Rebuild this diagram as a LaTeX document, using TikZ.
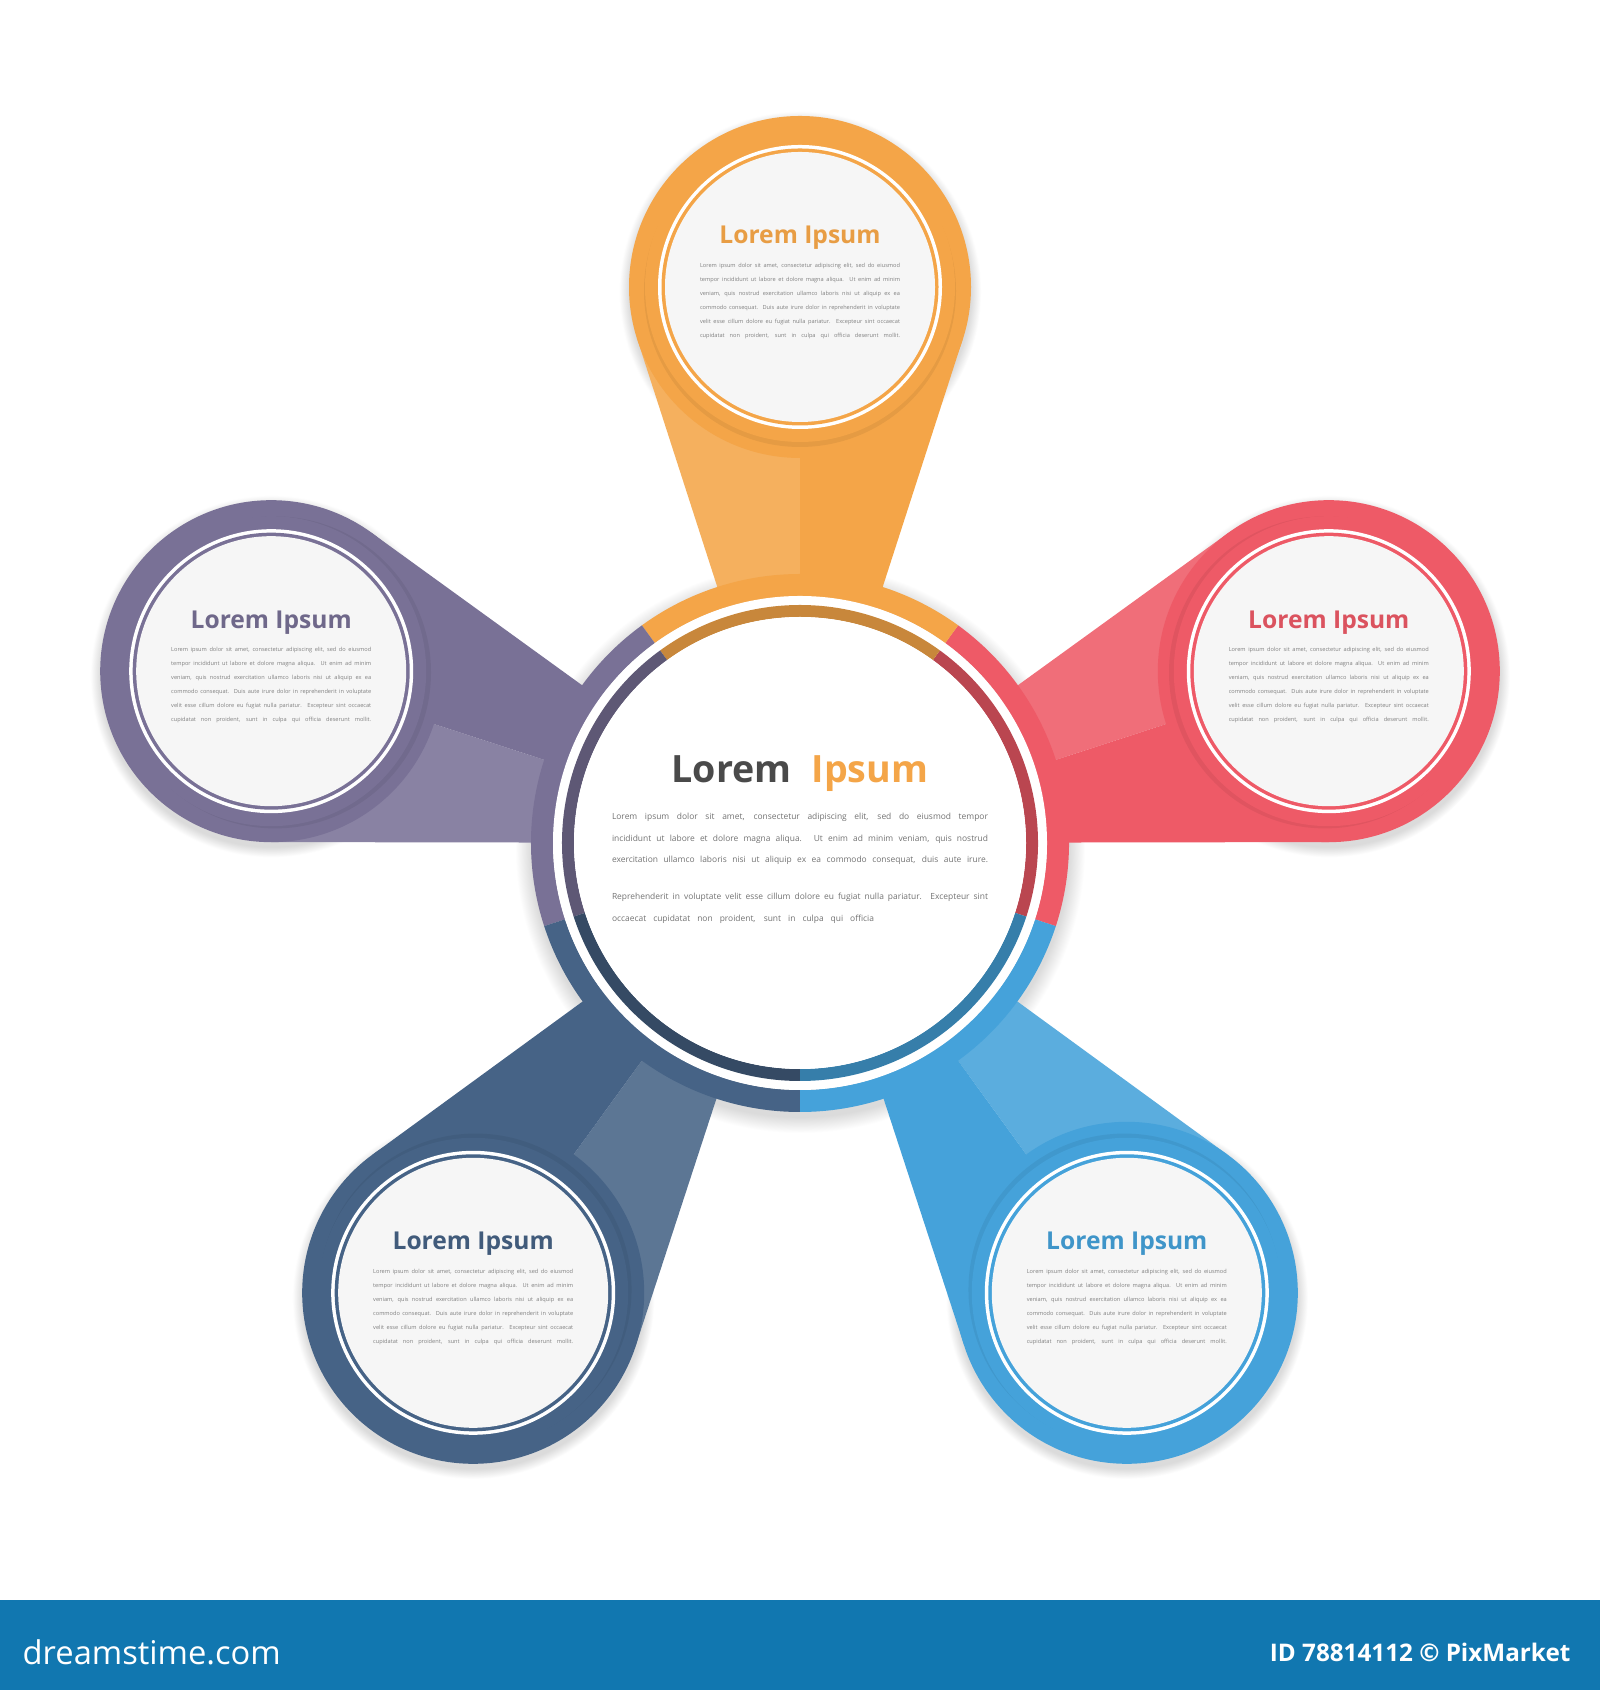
\documentclass[tikz,border=0pt]{standalone}
\usepackage{fontspec}
\setmainfont{Open Sans}
\usetikzlibrary{calc}

\definecolor{orangeseg}{HTML}{F4A548}
\definecolor{redseg}{HTML}{EE5A67}
\definecolor{purpleseg}{HTML}{797196}
\definecolor{navyseg}{HTML}{466386}
\definecolor{blueseg}{HTML}{45A2DA}
\definecolor{innergray}{HTML}{F6F6F6}
\definecolor{titlegray}{HTML}{4A4A4A}
\definecolor{bannerblue}{HTML}{1177B0}

\pgfdeclareradialshading{halo}{\pgfpoint{0bp}{0bp}}{color(0bp)=(black!14); color(23.6bp)=(black!14); color(25bp)=(white); color(50bp)=(white)}

\newcommand{\petaltext}{\vtop{\fontsize{1.6}{2}\selectfont\baselineskip=0.14cm\lineskiplimit=-1cm
\hbox to 2cm{Lorem ipsum dolor sit amet, consectetur adipiscing elit, sed do eiusmod}
\hbox to 2cm{tempor incididunt ut labore et dolore magna aliqua. Ut enim ad minim}
\hbox to 2cm{veniam, quis nostrud exercitation ullamco laboris nisi ut aliquip ex ea}
\hbox to 2cm{commodo consequat. Duis aute irure dolor in reprehenderit in voluptate}
\hbox to 2cm{velit esse cillum dolore eu fugiat nulla pariatur. Excepteur sint occaecat}
\hbox to 2cm{cupidatat non proident, sunt in culpa qui officia deserunt mollit.}}}

\tikzset{
  ptitle/.style={anchor=base, inner sep=0pt, font=\fontsize{7}{8}\selectfont\bfseries},
  pbody/.style={anchor=base, inner sep=0pt, text=black!50},
}

\begin{document}
\begin{tikzpicture}

	\useasboundingbox (-8,-8.47) rectangle (8,8.43);
	\fill[white] (-8,-8.47) rectangle (8,8.43);

	\coordinate (O) at (0,0);
	\coordinate (P1) at (90:5.56);
	\coordinate (P2) at (162:5.56);
	\coordinate (P3) at (234:5.56);
	\coordinate (P4) at (306:5.56);
	\coordinate (P5) at (18:5.56);

	% soft shadows
	\shade[shading=halo] (0,-0.05) circle (2.85);
	\shade[shading=halo] ($(P1)+(0,-0.05)$) circle (1.81);
	\shade[shading=halo] ($(P2)+(0,-0.05)$) circle (1.81);
	\shade[shading=halo] ($(P3)+(0,-0.05)$) circle (1.81);
	\shade[shading=halo] ($(P4)+(0,-0.05)$) circle (1.81);
	\shade[shading=halo] ($(P5)+(0,-0.05)$) circle (1.81);

	% necks
	\fill[orangeseg!88!white] (O) -- (107.9:5.29) -- (P1) -- cycle;
	\fill[orangeseg] (O) -- (P1) -- (72.1:5.29) -- cycle;
	\fill[purpleseg!88!white] (O) -- (179.9:5.29) -- (P2) -- cycle;
	\fill[purpleseg] (O) -- (P2) -- (144.1:5.29) -- cycle;
	\fill[navyseg!88!white] (O) -- (251.9:5.29) -- (P3) -- cycle;
	\fill[navyseg] (O) -- (P3) -- (216.1:5.29) -- cycle;
	\fill[blueseg!88!white] (O) -- (323.9:5.29) -- (P4) -- cycle;
	\fill[blueseg] (O) -- (P4) -- (288.1:5.29) -- cycle;
	\fill[redseg!88!white] (O) -- (35.9:5.29) -- (P5) -- cycle;
	\fill[redseg] (O) -- (P5) -- (0.1:5.29) -- cycle;

	% petals
	\fill[orangeseg] (P1) circle (1.71);
	\fill[black, opacity=0.06] ($(P1)+(270:0.04)$) circle (1.56);
	\fill[orangeseg] (P1) circle (1.55);
	\fill[white] (P1) circle (1.42);
	\fill[orangeseg] (P1) circle (1.385);
	\fill[innergray] (P1) circle (1.35);

	\fill[purpleseg] (P2) circle (1.71);
	\fill[black, opacity=0.06] ($(P2)+(342:0.04)$) circle (1.56);
	\fill[purpleseg] (P2) circle (1.55);
	\fill[white] (P2) circle (1.42);
	\fill[purpleseg] (P2) circle (1.385);
	\fill[innergray] (P2) circle (1.35);

	\fill[navyseg] (P3) circle (1.71);
	\fill[black, opacity=0.06] ($(P3)+(54:0.04)$) circle (1.56);
	\fill[navyseg] (P3) circle (1.55);
	\fill[white] (P3) circle (1.42);
	\fill[navyseg] (P3) circle (1.385);
	\fill[innergray] (P3) circle (1.35);

	\fill[blueseg] (P4) circle (1.71);
	\fill[black, opacity=0.06] ($(P4)+(126:0.04)$) circle (1.56);
	\fill[blueseg] (P4) circle (1.55);
	\fill[white] (P4) circle (1.42);
	\fill[blueseg] (P4) circle (1.385);
	\fill[innergray] (P4) circle (1.35);

	\fill[redseg] (P5) circle (1.71);
	\fill[black, opacity=0.06] ($(P5)+(198:0.04)$) circle (1.56);
	\fill[redseg] (P5) circle (1.55);
	\fill[white] (P5) circle (1.42);
	\fill[redseg] (P5) circle (1.385);
	\fill[innergray] (P5) circle (1.35);

	% center ring
	\fill[redseg] (-18:2.69) arc[start angle=-18, end angle=54, radius=2.69] -- (54:2.47) arc[start angle=54, end angle=-18, radius=2.47] -- cycle;
	\fill[orangeseg] (54:2.69) arc[start angle=54, end angle=126, radius=2.69] -- (126:2.47) arc[start angle=126, end angle=54, radius=2.47] -- cycle;
	\fill[purpleseg] (126:2.69) arc[start angle=126, end angle=198, radius=2.69] -- (198:2.47) arc[start angle=198, end angle=126, radius=2.47] -- cycle;
	\fill[navyseg] (198:2.69) arc[start angle=198, end angle=270, radius=2.69] -- (270:2.47) arc[start angle=270, end angle=198, radius=2.47] -- cycle;
	\fill[blueseg] (270:2.69) arc[start angle=270, end angle=342, radius=2.69] -- (342:2.47) arc[start angle=342, end angle=270, radius=2.47] -- cycle;

	\fill[white] (O) circle (2.47);

	\fill[redseg!78!black] (-18:2.38) arc[start angle=-18, end angle=54, radius=2.38] -- (54:2.26) arc[start angle=54, end angle=-18, radius=2.26] -- cycle;
	\fill[orangeseg!82!black] (54:2.38) arc[start angle=54, end angle=126, radius=2.38] -- (126:2.26) arc[start angle=126, end angle=54, radius=2.26] -- cycle;
	\fill[purpleseg!78!black] (126:2.38) arc[start angle=126, end angle=198, radius=2.38] -- (198:2.26) arc[start angle=198, end angle=126, radius=2.26] -- cycle;
	\fill[navyseg!75!black] (198:2.38) arc[start angle=198, end angle=270, radius=2.38] -- (270:2.26) arc[start angle=270, end angle=198, radius=2.26] -- cycle;
	\fill[blueseg!78!black] (270:2.38) arc[start angle=270, end angle=342, radius=2.38] -- (342:2.26) arc[start angle=342, end angle=270, radius=2.26] -- cycle;

	\fill[white] (O) circle (2.26);

	% center text
	\node (ctitle) [anchor=base, inner sep=0pt, font=\fontsize{10.7}{12}\selectfont\bfseries] at (0,0.60) {\textcolor{titlegray}{Lorem}\hspace{0.53em}\textcolor{orangeseg}{Ipsum}};
	\node (cbody) [pbody, text=black!55] at (0,0.23) {\vtop{\fontsize{2.4}{3}\selectfont\baselineskip=0.215cm\lineskiplimit=-1cm
		\hbox to 3.76cm{Lorem ipsum dolor sit amet, consectetur adipiscing elit, sed do eiusmod tempor}
		\hbox to 3.76cm{incididunt ut labore et dolore magna aliqua. Ut enim ad minim veniam, quis nostrud}
		\hbox to 3.76cm{exercitation ullamco laboris nisi ut aliquip ex ea commodo consequat, duis aute irure.}
		\vskip 0.155cm
		\hbox to 3.76cm{Reprehenderit in voluptate velit esse cillum dolore eu fugiat nulla pariatur. Excepteur sint}
		\hbox to 2.62cm{occaecat cupidatat non proident, sunt in culpa qui officia}}};

	% petal text
	\node (t1) [ptitle, text=orangeseg!95!black, yshift=4.3mm] at (P1) {Lorem Ipsum};
	\node (b1) [pbody, yshift=1.95mm] at (P1) {\petaltext};
	\node (t2) [ptitle, text=purpleseg!92!black, yshift=4.3mm] at (P2) {Lorem Ipsum};
	\node (b2) [pbody, yshift=1.95mm] at (P2) {\petaltext};
	\node (t3) [ptitle, text=navyseg!92!black, yshift=4.3mm] at (P3) {Lorem Ipsum};
	\node (b3) [pbody, yshift=1.95mm] at (P3) {\petaltext};
	\node (t4) [ptitle, text=blueseg!92!black, yshift=4.3mm] at (P4) {Lorem Ipsum};
	\node (b4) [pbody, yshift=1.95mm] at (P4) {\petaltext};
	\node (t5) [ptitle, text=redseg!92!black, yshift=4.3mm] at (P5) {Lorem Ipsum};
	\node (b5) [pbody, yshift=1.95mm] at (P5) {\petaltext};

	% banner
	\fill[bannerblue] (-8,-7.57) rectangle (8,-8.47);
	\node (brand) [anchor=west, inner sep=0pt, text=white, font=\fontsize{9.3}{10}\selectfont] at (-7.78,-8.09) {dreamstime.com};
	\node (credit) [anchor=east, inner sep=0pt, text=white, font=\fontsize{6.9}{8}\selectfont\bfseries] at (7.71,-8.09) {ID 78814112 © PixMarket};

\end{tikzpicture}
\end{document}
